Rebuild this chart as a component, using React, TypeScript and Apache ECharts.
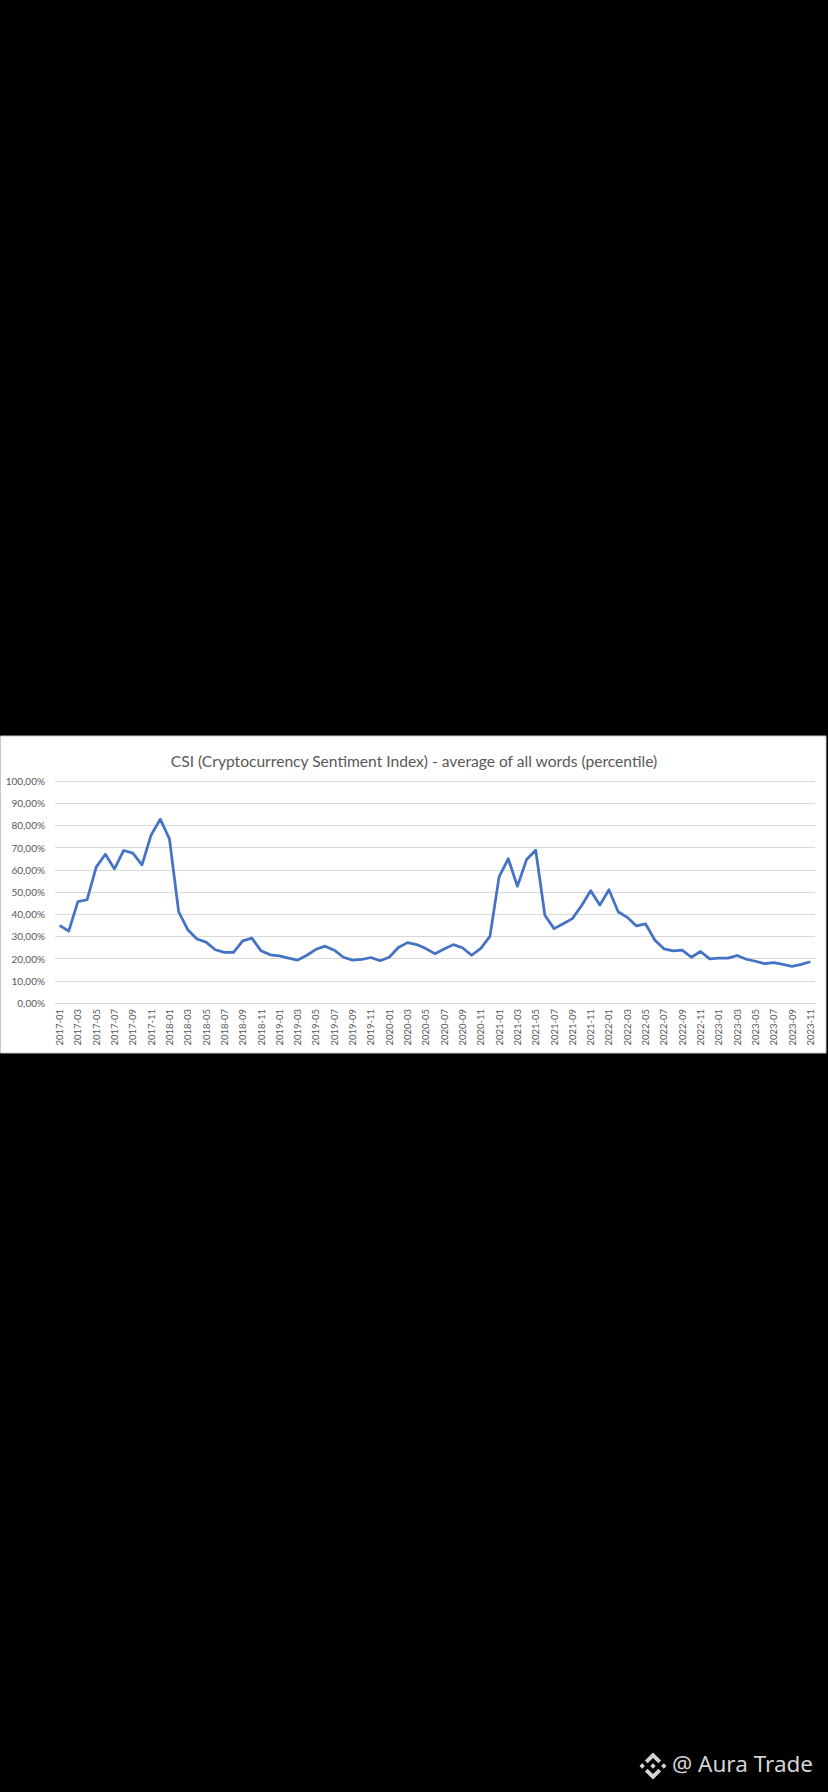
import React, { useEffect, useRef } from "react";
import * as echarts from "echarts";

const TITLE = "CSI (Cryptocurrency Sentiment Index) - average of all words (percentile)";

const months = [
  "2017-01","2017-02","2017-03","2017-04","2017-05","2017-06","2017-07","2017-08","2017-09","2017-10","2017-11","2017-12",
  "2018-01","2018-02","2018-03","2018-04","2018-05","2018-06","2018-07","2018-08","2018-09","2018-10","2018-11","2018-12",
  "2019-01","2019-02","2019-03","2019-04","2019-05","2019-06","2019-07","2019-08","2019-09","2019-10","2019-11","2019-12",
  "2020-01","2020-02","2020-03","2020-04","2020-05","2020-06","2020-07","2020-08","2020-09","2020-10","2020-11","2020-12",
  "2021-01","2021-02","2021-03","2021-04","2021-05","2021-06","2021-07","2021-08","2021-09","2021-10","2021-11","2021-12",
  "2022-01","2022-02","2022-03","2022-04","2022-05","2022-06","2022-07","2022-08","2022-09","2022-10","2022-11","2022-12",
  "2023-01","2023-02","2023-03","2023-04","2023-05","2023-06","2023-07","2023-08","2023-09","2023-10","2023-11",
];

const csiValues = [
  35.0, 32.4, 45.7, 46.5, 61.2, 67.0, 60.4, 68.7, 67.5, 62.2, 75.7, 82.8,
  73.9, 41.2, 33.0, 28.8, 27.4, 24.0, 22.8, 22.8, 28.0, 29.2, 23.5, 21.7,
  21.2, 20.2, 19.3, 21.5, 24.2, 25.6, 23.8, 20.6, 19.3, 19.6, 20.5, 19.0,
  20.6, 25.0, 27.2, 26.3, 24.5, 22.2, 24.3, 26.3, 24.9, 21.5, 24.6, 30.0,
  56.8, 65.0, 52.6, 64.6, 68.8, 39.5, 33.5, 35.7, 38.0, 43.8, 50.6, 44.1,
  51.0, 41.1, 38.6, 34.7, 35.6, 28.4, 24.4, 23.5, 23.8, 20.6, 23.2, 19.9,
  20.2, 20.2, 21.4, 19.7, 18.8, 17.7, 18.2, 17.4, 16.5, 17.4, 18.6,
];

const yTicks = { min: 0, max: 100, interval: 10 };

const WATERMARK = "@ Aura Trade";

// Binance-like logo polygons in unit coordinates (-1..1)
const logoShapes: number[][][] = [
  [[0, -0.2], [0.2, 0], [0, 0.2], [-0.2, 0]],
  [[-0.8, -0.2], [-0.6, 0], [-0.8, 0.2], [-1, 0]],
  [[0.8, -0.2], [1, 0], [0.8, 0.2], [0.6, 0]],
  [[0, -1], [0.6, -0.4], [0.4, -0.2], [0, -0.6], [-0.4, -0.2], [-0.6, -0.4]],
  [[0, 1], [0.6, 0.4], [0.4, 0.2], [0, 0.6], [-0.4, 0.2], [-0.6, 0.4]],
];

export default function App() {
  const ref = useRef<HTMLDivElement>(null);

  useEffect(() => {
    if (!ref.current) return;
    const chart = echarts.init(ref.current, undefined, { renderer: "svg" });
    const fontFamily = "Lato, 'Liberation Sans', sans-serif";
    const logoCx = 653;
    const logoCy = 1766;
    const logoR = 13.5;
    const logoColor = "#d4d4d4";

    chart.setOption({
      animation: false,
      backgroundColor: "#000000",
      title: {
        text: TITLE,
        left: "center",
        top: 748,
        textStyle: {
          color: "#595959",
          fontSize: 15.6,
          fontWeight: "normal",
          fontFamily,
        },
      },
      graphic: [
        {
          type: "rect",
          z: -100,
          silent: true,
          shape: { x: 0.5, y: 736, width: 825.5, height: 317 },
          style: { fill: "#ffffff", stroke: "#c6c6c6", lineWidth: 1 },
        },
        ...logoShapes.map((pts) => ({
          type: "polygon",
          silent: true,
          shape: {
            points: pts.map(([px, py]) => [logoCx + px * logoR, logoCy + py * logoR]),
          },
          style: { fill: logoColor },
        })),
        {
          type: "text",
          left: 672,
          top: 1752,
          silent: true,
          style: {
            text: WATERMARK,
            fill: logoColor,
            fontSize: 22.5,
            fontFamily: "'Noto Sans', sans-serif",
          },
        },
      ],
      grid: {
        left: 55,
        right: 13,
        top: 781,
        bottom: 1792 - 1003,
        containLabel: false,
      },
      xAxis: {
        type: "category",
        data: months,
        boundaryGap: true,
        axisLine: { show: true, lineStyle: { color: "#d9d9d9", width: 1 } },
        axisTick: { show: false },
        axisLabel: {
          interval: 1,
          rotate: 90,
          margin: 6,
          color: "#595959",
          fontSize: 9.5,
          fontFamily,
        },
        splitLine: { show: false },
      },
      yAxis: {
        type: "value",
        min: yTicks.min,
        max: yTicks.max,
        interval: yTicks.interval,
        axisLine: { show: false },
        axisTick: { show: false },
        axisLabel: {
          margin: 10,
          color: "#595959",
          fontSize: 10,
          fontFamily,
          formatter: (v: number) => v.toFixed(2).replace(".", ",") + "%",
        },
        splitLine: { show: true, lineStyle: { color: "#d9d9d9", width: 1 } },
      },
      series: [
        {
          type: "line",
          data: csiValues,
          showSymbol: false,
          symbol: "none",
          lineStyle: { color: "#4472C4", width: 2.75, join: "round" },
          itemStyle: { color: "#4472C4" },
        },
      ],
    });

    return () => {
      chart.dispose();
    };
  }, []);

  return (
    <div
      ref={ref}
      style={{ position: "absolute", left: 0, top: 0, width: 828, height: 1792 }}
    />
  );
}
